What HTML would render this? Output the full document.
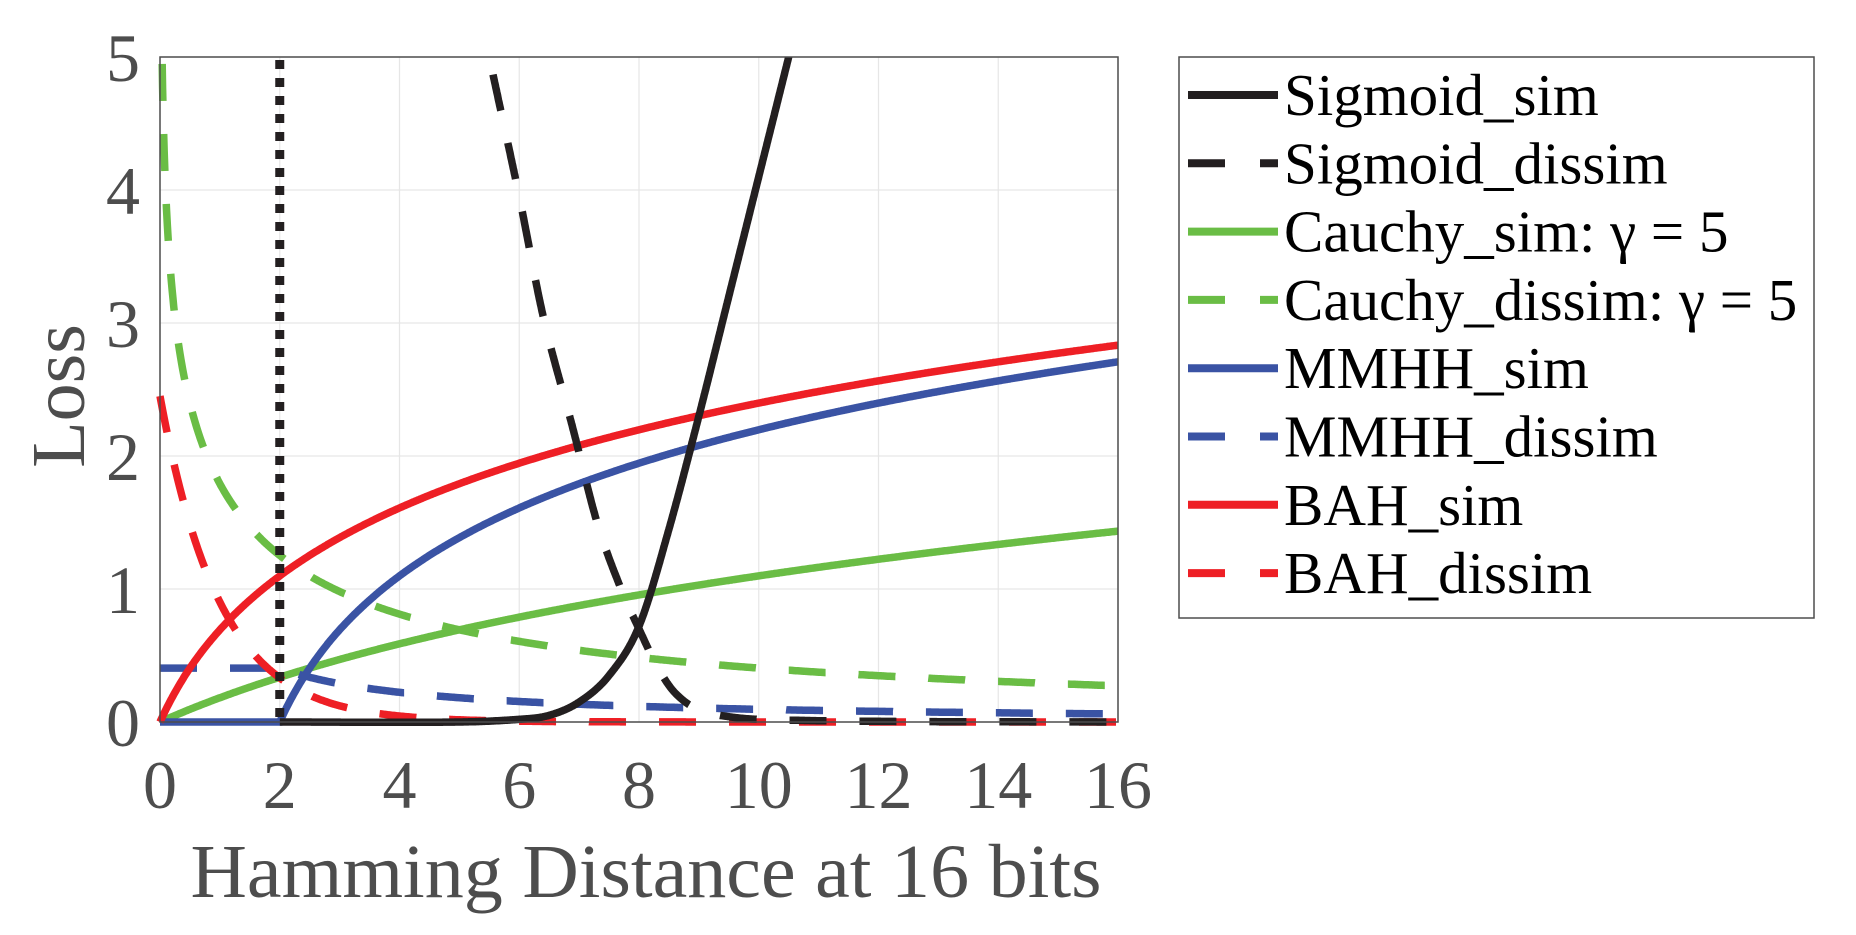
<!DOCTYPE html>
<html><head><meta charset="utf-8"><style>
html,body{margin:0;padding:0;background:#fff;}
svg{display:block;}
text{font-family:"Liberation Serif","Times New Roman","DejaVu Serif",serif;}
</style></head><body>
<svg id="s" width="1856" height="935" viewBox="0 0 1856 935" xmlns="http://www.w3.org/2000/svg" font-family="Liberation Serif, Times New Roman, serif">
<defs><clipPath id="c"><rect x="150" y="57" width="980" height="680"/></clipPath></defs>
<g id="grid" stroke="#e6e6e6" stroke-width="1.2"></g>
<g id="curves" clip-path="url(#c)" fill="none" stroke-width="7.5"></g>
<rect x="160" y="57" width="958" height="665" fill="none" stroke="#4d4d4d" stroke-width="1.5"/>
<g id="ticks" fill="#4d4d4d" font-size="68" font-family="Liberation Serif, serif"></g>
<text x="646" y="897" font-size="76" fill="#4d4d4d" text-anchor="middle" textLength="911" lengthAdjust="spacingAndGlyphs" font-family="Liberation Serif, serif">Hamming Distance at 16 bits</text>
<text transform="translate(84,396) rotate(-90)" font-size="76" fill="#4d4d4d" text-anchor="middle" font-family="Liberation Serif, serif">Loss</text>
<rect x="1179" y="57" width="635" height="561" fill="#fff" stroke="#4d4d4d" stroke-width="1.5"/>
<g id="leg" font-size="59" fill="#000" font-family="Liberation Serif, serif"></g>
</svg>
<script>
var NS="http://www.w3.org/2000/svg";
function X(d){return 160+d*958/16;}
function Y(v){return 722-v*133;}
function el(p,tag,a,txt){var e=document.createElementNS(NS,tag);for(var k in a)e.setAttribute(k,a[k]);if(txt!==undefined)e.textContent=txt;p.appendChild(e);return e;}
var g=document.getElementById('grid'),t=document.getElementById('ticks'),cv=document.getElementById('curves'),lg=document.getElementById('leg');
for(var i=0;i<=16;i+=2){el(g,'line',{x1:X(i),x2:X(i),y1:57,y2:722});el(t,'text',{x:X(i),y:808,'text-anchor':'middle'},String(i));}
for(var j=0;j<=5;j++){el(g,'line',{x1:160,x2:1118,y1:Y(j),y2:Y(j)});el(t,'text',{x:140,y:Y(j)+24,'text-anchor':'end'},String(j));}
var K='#231f20',G='#6abd45',B='#3a53a4',R='#ee1f25',D='37 33';
function fpath(f,a,b,n){var s='';for(var i=0;i<=n;i++){var d=a+(b-a)*i/n;var v=f(d);if(v>6)v=6;s+=(i?'L':'M')+X(d).toFixed(1)+','+Y(v).toFixed(1);}return s;}
function spline(p){return function(d){var n=p.length;if(d<=p[0][0])return p[0][1];if(d>=p[n-1][0])return p[n-1][1];
 for(var i=0;i<n-1;i++){if(d<=p[i+1][0]){var p0=p[Math.max(i-1,0)],p1=p[i],p2=p[i+1],p3=p[Math.min(i+2,n-1)];var t=(d-p1[0])/(p2[0]-p1[0]);
 var m1=(p2[1]-p0[1])/(p2[0]-p0[0])*(p2[0]-p1[0]),m2=(p3[1]-p1[1])/(p3[0]-p1[0])*(p2[0]-p1[0]);
 var t2=t*t,t3=t2*t;return (2*t3-3*t2+1)*p1[1]+(t3-2*t2+t)*m1+(-2*t3+3*t2)*p2[1]+(t3-t2)*m2;}}}}
var sigS=spline([[2,0],[5,0],[6,0.02],[6.5,0.05],[7,0.15],[7.5,0.35],[8,0.72],[8.5,1.45],[9,2.3],[9.5,3.2],[10,4.1],[10.5,5],[10.8,5.55]]);
var sigD=spline([[5.1,5.9],[5.3,5.45],[5.5,5],[6,3.95],[6.4,3.05],[6.9,2.2],[7.3,1.5],[7.7,1],[8,0.7],[8.3,0.42],[8.6,0.22],[9,0.09],[9.5,0.04],[10,0.02],[12,0.005],[16,0]]);
var curves=[
 [function(d){return Math.log(1+d/5);},0,16,G,null],
 [function(d){return Math.log(1+5/Math.max(d,0.0001));},0.003,16,G,D],
 [function(d){return Math.log(1+1/Math.max(d,2));},0,16,B,D],
 [function(d){return 2.45*Math.exp(-d);},0,16,R,D],
 [function(d){return d<2?0:Math.log(1+(d-2));},0,16,B,null],
 [function(d){return Math.log(1+d);},0,16,R,null],
 [sigS,2,10.8,K,null],
 [sigD,5.1,16,K,D]
];
curves.forEach(function(c){var a={d:fpath(c[0],c[1],c[2],1200),stroke:c[3]};if(c[4])a['stroke-dasharray']=c[4];el(cv,'path',a);});
el(cv,'line',{x1:X(2),x2:X(2),y1:60,y2:722,stroke:K,'stroke-width':9,'stroke-dasharray':'9 9'});
var L=[['Sigmoid_sim',K,0],['Sigmoid_dissim',K,1],['Cauchy_sim: \u03b3 = 5',G,0],['Cauchy_dissim: \u03b3 = 5',G,1],['MMHH_sim',B,0],['MMHH_dissim',B,1],['BAH_sim',R,0],['BAH_dissim',R,1]];
L.forEach(function(l,i){var y=95+i*68.3;var a={x1:1188,x2:1278,y1:y,y2:y,stroke:l[1],'stroke-width':8};if(l[2])a['stroke-dasharray']='37 35';el(lg,'line',a);el(lg,'text',{x:1284,y:y+20},l[0]);});
</script>
</body></html>
